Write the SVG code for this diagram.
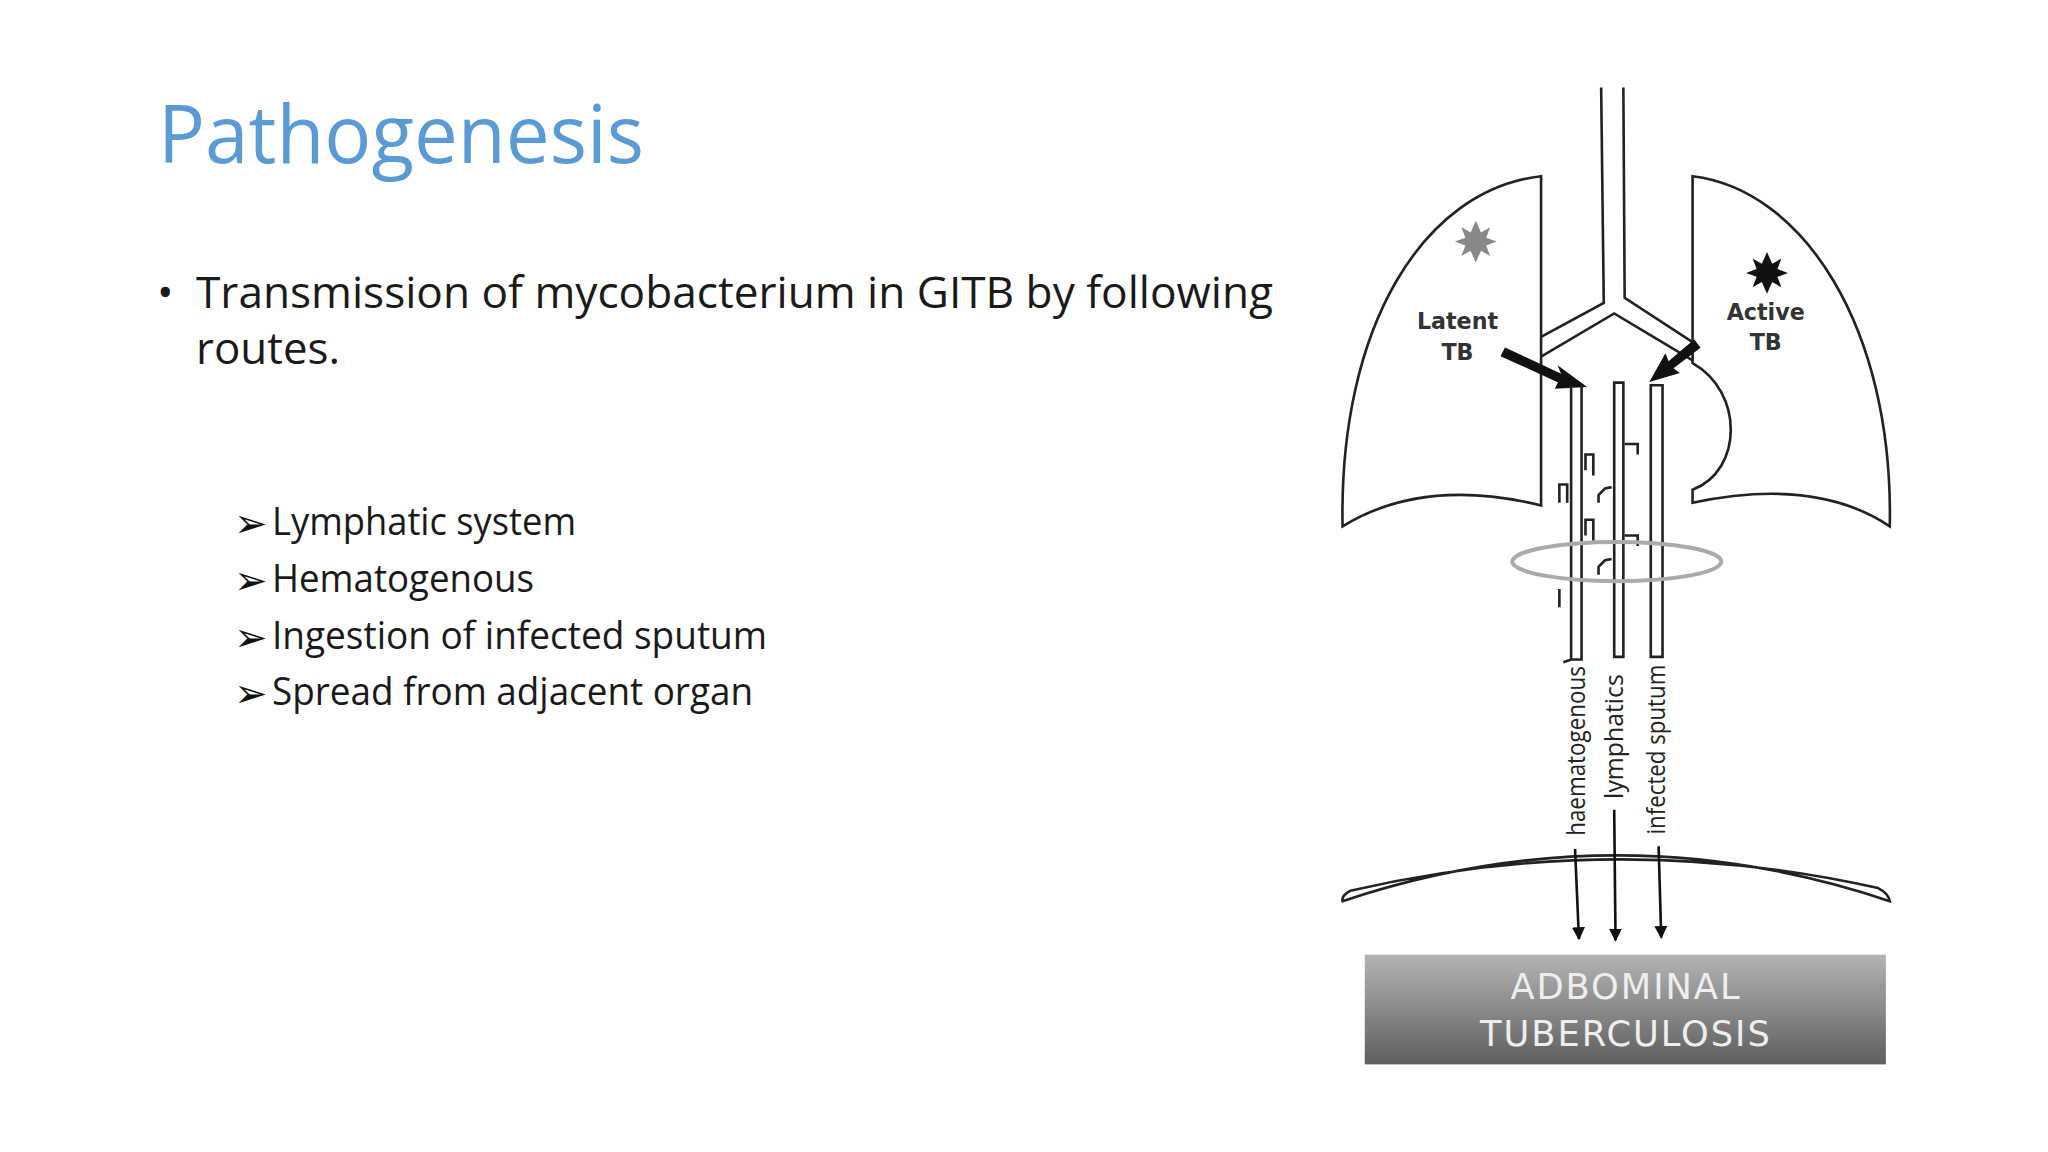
<svg xmlns="http://www.w3.org/2000/svg" width="2048" height="1152" viewBox="0 0 2048 1152">
<defs>
<style>
.t{font-family:"Open Sans","Liberation Sans",sans-serif;fill:#1a1a1a}
.ln{fill:none;stroke:#222;stroke-width:2}
.lab{font-family:"DejaVu Sans","Liberation Sans",sans-serif;font-size:17px;font-weight:bold;fill:#333;text-anchor:middle}
.vl{font-family:"Open Sans","Liberation Sans",sans-serif;font-size:19px;fill:#222;text-anchor:middle}
</style>
<linearGradient id="g" x1="0" y1="0" x2="0" y2="1"><stop offset="0" stop-color="#b4b4b4"/><stop offset="1" stop-color="#5e5e5e"/></linearGradient>
<marker id="ah" viewBox="0 0 10 10" refX="9" refY="5" markerWidth="5" markerHeight="5" orient="auto"><path d="M0,0L10,5L0,10z" fill="#111"/></marker>
<path id="star" d="M0,-16L4,-7 11,-11 8,-3 16,0 8,3 11,11 4,7 0,16 -4,7 -11,11 -8,3 -16,0 -8,-3 -11,-11 -4,-7Z"/>
</defs>
<rect width="2048" height="1152" fill="#fff"/>
<g id="title"><text x="158" y="163" font-family="Open Sans, Liberation Sans, sans-serif" font-size="80" fill="#5b9bd5" textLength="486" lengthAdjust="spacingAndGlyphs">Pathogenesis</text></g>
<g id="bullets">
<text class="t" x="157" y="308" font-size="44">•</text>
<text class="t" x="196" y="308" font-size="44" textLength="1077" lengthAdjust="spacingAndGlyphs">Transmission of mycobacterium in GITB by following</text>
<text class="t" x="196" y="364" font-size="44" textLength="144" lengthAdjust="spacingAndGlyphs">routes.</text>
<g font-size="40" font-family="DejaVu Sans, sans-serif" fill="#111">
<text x="234" y="537">➢</text><text x="234" y="594">➢</text><text x="234" y="651">➢</text><text x="234" y="707">➢</text>
</g>
<text class="t" x="272" y="535" font-size="38" textLength="304" lengthAdjust="spacingAndGlyphs">Lymphatic system</text>
<text class="t" x="272" y="592" font-size="38" textLength="262" lengthAdjust="spacingAndGlyphs">Hematogenous</text>
<text class="t" x="272" y="649" font-size="38" textLength="495" lengthAdjust="spacingAndGlyphs">Ingestion of infected sputum</text>
<text class="t" x="272" y="705" font-size="38" textLength="481" lengthAdjust="spacingAndGlyphs">Spread from adjacent organ</text>
</g>
<g transform="scale(1.306)">
<g id="trachea" class="ln">
<path d="M1226,67L1228,232L1180,258"/>
<path d="M1243,67L1244,228L1296,262"/>
<path d="M1180,273L1236,240L1296,276"/>
</g>
<g id="left-lung"><path class="ln" d="M1180,135L1180,387Q1090,365 1028,403C1025,250 1090,145 1180,135Z"/>
<use href="#star" transform="translate(1130,185)" fill="#888"/>
<text class="lab" x="1116" y="252">Latent</text><text class="lab" x="1116" y="276">TB</text></g>
<g id="right-lung"><path class="ln" d="M1296,135L1296,278C1335,300 1335,360 1296,375L1296,385Q1390,365 1447,403C1450,250 1380,145 1296,135Z"/>
<use href="#star" transform="translate(1353,209)" fill="#111"/>
<text class="lab" x="1352" y="245">Active</text><text class="lab" x="1352" y="268">TB</text></g>
<g id="thick-arrows" fill="#111">
<path d="M1153,268L1198,289L1196,284L1211,295L1193,296L1195,292L1151,272Z" stroke="#111" stroke-width="3"/>
<path d="M1297,262L1277,279L1275,274L1266,290L1283,285L1279,282L1300,266Z" stroke="#111" stroke-width="3"/>
</g>
<g id="tubes" class="ln">
<path d="M1203,295L1203,505L1197,507M1211,295L1211,505L1203,505"/>
<path d="M1236,293L1236,503L1243,503L1243,293Z"/>
<path d="M1264,295L1264,503L1273,503L1273,295Z"/>
<path d="M1214,360l0,-12 6,0 0,16 M1194,385l0,-14 6,0 0,14 M1214,410l0,-12 6,0 0,16 M1194,465l0,-14 M1224,385l0,-6 5,-5 5,-1 M1224,440l0,-6 5,-5 5,-1 M1244,340l10,0 0,8 M1244,410l10,0 0,8"/>
</g>
<ellipse id="oval" cx="1238" cy="430" rx="80" ry="15" fill="none" stroke="#aaa" stroke-width="3"/>
<g id="labels">
<text class="vl" transform="translate(1214,575) rotate(-90)" textLength="130" lengthAdjust="spacingAndGlyphs">haematogenous</text>
<text class="vl" transform="translate(1243,564) rotate(-90)">lymphatics</text>
<text class="vl" transform="translate(1275,574) rotate(-90)" textLength="130" lengthAdjust="spacingAndGlyphs">infected sputum</text>
</g>
<path id="diaphragm" class="ln" d="M1028,690Q1238,620 1447,690Q1446,684 1438,680Q1238,635 1034,682Q1027,686 1028,690Z"/>
<g id="connectors" stroke="#111" stroke-width="2" fill="none" marker-end="url(#ah)">
<path d="M1206,650L1209,719"/>
<path d="M1236,620L1237,720"/>
<path d="M1270,648L1272,718"/>
</g>
<g id="box"><rect x="1045" y="731" width="399" height="84" fill="url(#g)"/>
<text x="1245" y="765" font-family="DejaVu Sans, sans-serif" font-size="27" fill="#eee" text-anchor="middle" letter-spacing="1.5">ADBOMINAL</text>
<text x="1245" y="801" font-family="DejaVu Sans, sans-serif" font-size="27" fill="#eee" text-anchor="middle" letter-spacing="1.5">TUBERCULOSIS</text></g>
</g>
</svg>
